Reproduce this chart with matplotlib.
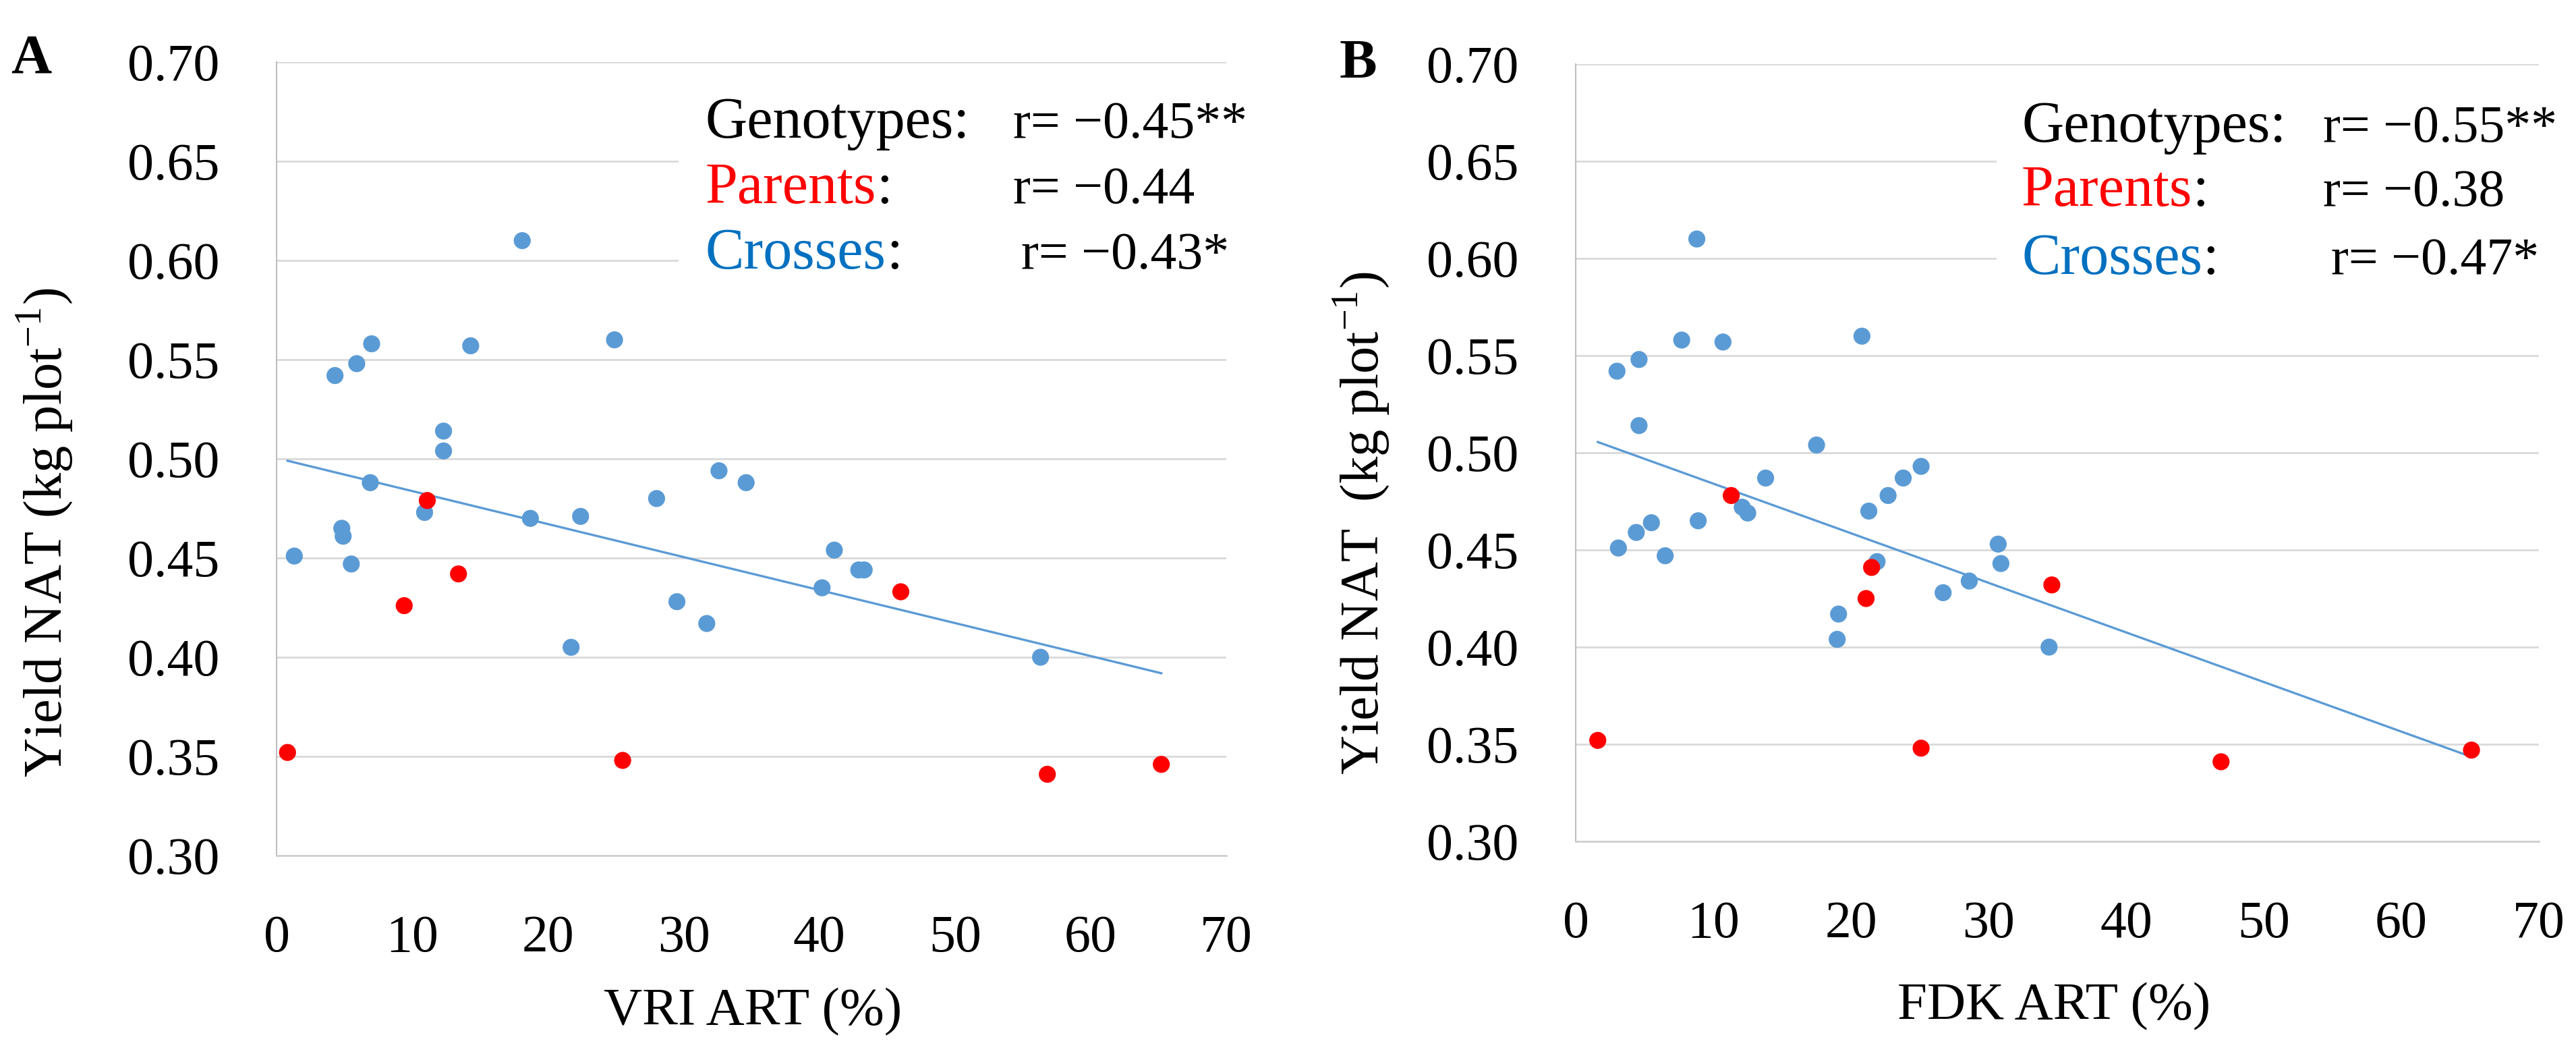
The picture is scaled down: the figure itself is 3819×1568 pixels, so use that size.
import numpy as np
import matplotlib
matplotlib.use('Agg')
import matplotlib.pyplot as plt
from matplotlib.patches import Rectangle

plt.rcParams['font.family'] = ['Liberation Serif', 'DejaVu Serif']
plt.rcParams['mathtext.fontset'] = 'custom'
plt.rcParams['mathtext.rm'] = 'Liberation Serif'

# Panel A: VRI ART (%) vs yield NAT
a_cross_x = [18.1, 24.9, 14.3, 7.0, 5.9, 4.3, 12.3, 12.3, 32.6, 34.6, 6.9, 28.0,
             10.9, 18.7, 22.4, 4.8, 4.9, 1.3, 5.5, 41.1, 42.9, 43.3, 40.2, 29.5,
             31.7, 21.7, 56.3]
a_cross_y = [0.610, 0.560, 0.557, 0.558, 0.548, 0.542, 0.514, 0.504, 0.494, 0.488,
             0.488, 0.480, 0.473, 0.470, 0.471, 0.465, 0.461, 0.451, 0.447, 0.454,
             0.444, 0.444, 0.435, 0.428, 0.417, 0.405, 0.400]
a_par_x = [11.1, 13.4, 9.4, 46.0, 0.8, 25.5, 56.8, 65.2]
a_par_y = [0.479, 0.442, 0.426, 0.433, 0.352, 0.348, 0.341, 0.346]

# Panel B: FDK ART (%) vs yield NAT
b_cross_x = [8.8, 20.8, 7.7, 10.7, 4.6, 3.0, 4.6, 17.5, 25.1, 23.8, 13.8, 22.7,
             21.3, 12.1, 12.5, 8.9, 5.5, 4.4, 3.1, 6.5, 30.7, 30.9, 21.9, 28.6,
             26.7, 19.1, 19.0, 34.4]
b_cross_y = [0.610, 0.560, 0.558, 0.557, 0.548, 0.542, 0.514, 0.504, 0.493, 0.487,
             0.487, 0.478, 0.470, 0.472, 0.469, 0.465, 0.464, 0.459, 0.451, 0.447,
             0.453, 0.443, 0.444, 0.434, 0.428, 0.417, 0.404, 0.400]
b_par_x = [11.3, 21.5, 21.1, 34.6, 1.6, 25.1, 46.9, 65.1]
b_par_y = [0.478, 0.441, 0.425, 0.432, 0.352, 0.348, 0.341, 0.347]

r_a = ['r= \u22120.45**', 'r= \u22120.44', 'r= \u22120.43*']
r_b = ['r= \u22120.55**', 'r= \u22120.38', 'r= \u22120.47*']

blue = '#5b9bd5'
red = '#ff0000'
tick_fs = 56
text_fs = 62
r_fs = 56


def draw_panel(ax, cx, cy, px, py, rvals, txt_x, box_x, ys):
    ax.set_xlim(0, 70)
    ax.set_ylim(0.30, 0.70)
    ax.set_xticks(np.arange(0, 71, 10))
    ax.set_yticks(np.arange(0.30, 0.701, 0.05))
    ax.yaxis.set_major_formatter(plt.FormatStrFormatter('%.2f'))
    ax.set_axisbelow(True)
    ax.yaxis.grid(True, color='#d9d9d9', lw=2.0)
    for s in ['top', 'right']:
        ax.spines[s].set_visible(False)
    ax.spines['left'].set_color('#bfbfbf')
    ax.spines['left'].set_linewidth(1.5)
    ax.spines['bottom'].set_color('#cfcfcf')
    ax.spines['bottom'].set_linewidth(2.0)
    ax.tick_params(axis='both', length=0, labelsize=tick_fs)
    ax.tick_params(axis='y', pad=61)
    ax.tick_params(axis='x', pad=63)

    # trend line over all genotypes
    allx = np.array(cx + px)
    ally = np.array(cy + py)
    k, b = np.polyfit(allx, ally, 1)
    xs = np.array([allx.min(), allx.max()])
    ax.plot(xs, k * xs + b, color=blue, lw=2.4, zorder=2)

    ax.scatter(cx, cy, s=330, color=blue, edgecolors='none', zorder=3)
    ax.scatter(px, py, s=330, color=red, edgecolors='none', zorder=4)

    ax.add_patch(Rectangle((box_x, 0.57), 70 - box_x, 0.11, facecolor='white',
                           edgecolor='none', zorder=1, clip_on=False))

    labels = [('Genotypes:', 'black'), ('Parents', red), ('Crosses', '#0070c0')]
    for i, (lab, col) in enumerate(labels):
        t = ax.text(txt_x, ys[i], lab, color=col, fontsize=text_fs,
                    ha='left', va='baseline', zorder=5)
        if i > 0:
            ax.annotate(':', xy=(1, 0), xycoords=t, fontsize=text_fs,
                        ha='left', va='bottom', color='black', zorder=5)
        rx = 54.3 if i < 2 else 54.9
        ax.text(rx, ys[i], rvals[i], color='black', fontsize=r_fs,
                ha='left', va='baseline', zorder=5, clip_on=False)


fig = plt.figure(figsize=(38.19, 15.68), dpi=100)
axA = fig.add_axes([0.1074, 0.1913, 0.3687, 0.7500])
axB = fig.add_axes([0.6117, 0.2047, 0.3739, 0.7347])

draw_panel(axA, a_cross_x, a_cross_y, a_par_x, a_par_y, r_a, 31.6, 29.6,
           [0.662, 0.629, 0.596])
draw_panel(axB, b_cross_x, b_cross_y, b_par_x, b_par_y, r_b, 32.4, 30.6,
           [0.660, 0.627, 0.592])

fig.text(0.0175, 0.4968, 'Yield NAT (kg plot$^{\\mathregular{-1}}$)', rotation=90,
         ha='center', va='center', fontsize=58)
fig.text(0.5287, 0.5057, 'Yield NAT  (kg plot$^{\\mathregular{-1}}$)', rotation=90,
         ha='center', va='center', fontsize=58)
fig.text(0.2922, 0.0434, 'VRI ART (%)', ha='center', va='center', fontsize=57)
fig.text(0.7973, 0.0485, 'FDK ART (%)', ha='center', va='center', fontsize=57)
fig.text(0.0121, 0.9439, 'A', ha='center', va='center', fontsize=60, fontweight='bold')
fig.text(0.5273, 0.9394, 'B', ha='center', va='center', fontsize=60, fontweight='bold')

fig.savefig('out.png', dpi=100, facecolor='white')
